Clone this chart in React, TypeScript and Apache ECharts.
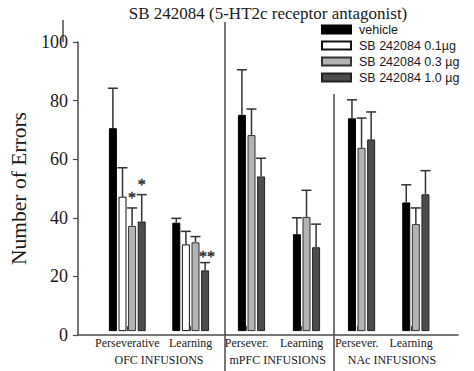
import React, { useEffect, useRef } from 'react';
import * as echarts from 'echarts';

// ---- data ----
const titleText = 'SB 242084 (5-HT2c receptor antagonist)';
const yAxisName = 'Number of Errors';
const ofcCategories = ['Perseverative', 'Learning'];
const shortCategories = ['Persever.', 'Learning'];
const panelNames = ['OFC INFUSIONS', 'mPFC INFUSIONS', 'NAc INFUSIONS'];
const seriesNames = ['vehicle', 'SB 242084 0.1µg', 'SB 242084 0.3 µg', 'SB 242084 1.0 µg'];

// OFC
const ofcVehicle = [70.2, 37.5];
const ofcVehicleSem = [13.8, 1.5];
const ofcDose01 = [46.5, 30.0];
const ofcDose01Sem = [10.0, 4.5];
const ofcDose03 = [36.4, 30.7];
const ofcDose03Sem = [6.2, 2.0];
const ofcDose10 = [37.9, 21.0];
const ofcDose10Sem = [9.3, 2.7];
const ofcDose03Sig = ['*', ''];
const ofcDose10Sig = ['*', '**'];

// mPFC
const mpfcVehicle = [74.8, 33.5];
const mpfcVehicleSem = [15.6, 5.7];
const mpfcDose03 = [67.8, 39.5];
const mpfcDose03Sem = [9.0, 9.2];
const mpfcDose10 = [53.5, 29.0];
const mpfcDose10Sem = [6.3, 8.0];

// NAc
const nacVehicle = [73.6, 44.5];
const nacVehicleSem = [6.4, 6.1];
const nacDose03 = [63.4, 37.0];
const nacDose03Sem = [10.3, 5.6];
const nacDose10 = [66.3, 47.3];
const nacDose10Sem = [9.5, 8.2];

// ---- styles ----
const SERIF = '"Liberation Serif", "Times New Roman", serif';
const SANS = '"Liberation Sans", Arial, sans-serif';
const fills = ['#000000', '#ffffff', '#b3b3b3', '#4d4d4d'];
const borders = ['#000000', '#111111', '#333333', '#222222'];
const AXIS_COLOR = '#4a4a4a';
const ERR_COLOR = '#333333';
const BAR_W = 8;
const BAR_GAP = 0.2;
const PITCH = BAR_W * (1 + BAR_GAP);

type Bar = { s: number; mean: number[]; sem: number[]; sig?: string[] };

const panels: { cats: string[]; bars: Bar[]; placeholder: boolean }[] = [
  {
    cats: ofcCategories,
    placeholder: false,
    bars: [
      { s: 0, mean: ofcVehicle, sem: ofcVehicleSem },
      { s: 1, mean: ofcDose01, sem: ofcDose01Sem },
      { s: 2, mean: ofcDose03, sem: ofcDose03Sem, sig: ofcDose03Sig },
      { s: 3, mean: ofcDose10, sem: ofcDose10Sem, sig: ofcDose10Sig },
    ],
  },
  {
    cats: shortCategories,
    placeholder: true,
    bars: [
      { s: 0, mean: mpfcVehicle, sem: mpfcVehicleSem },
      { s: 2, mean: mpfcDose03, sem: mpfcDose03Sem },
      { s: 3, mean: mpfcDose10, sem: mpfcDose10Sem },
    ],
  },
  {
    cats: shortCategories,
    placeholder: true,
    bars: [
      { s: 0, mean: nacVehicle, sem: nacVehicleSem },
      { s: 2, mean: nacDose03, sem: nacDose03Sem },
      { s: 3, mean: nacDose10, sem: nacDose10Sem },
    ],
  },
];

const TOP = 42;
const BOTTOM = 36;
const panelGrids = [
  { left: 95.6, width: 126.8, namePad: 0 },
  { left: 219.2, width: 110, namePad: 7 },
  { left: 329.6, width: 108.6, namePad: 16 },
];

function buildOption() {
  const grid: any[] = [{ left: 63, right: 16, top: TOP, bottom: BOTTOM }];
  const xAxis: any[] = [
    {
      gridIndex: 0,
      type: 'value',
      min: 0,
      max: 1,
      axisLine: { show: true, onZero: false, lineStyle: { color: AXIS_COLOR, width: 1.5 } },
      axisTick: { show: false },
      axisLabel: { show: false },
      splitLine: { show: false },
    },
  ];
  const yAxis: any[] = [
    {
      gridIndex: 0,
      type: 'value',
      min: 0,
      max: 100,
      interval: 20,
      name: yAxisName,
      nameLocation: 'middle',
      nameGap: 39,
      nameTextStyle: { fontFamily: SERIF, fontSize: 21.5, color: '#1a1a1a' },
      axisLine: { show: true, lineStyle: { color: AXIS_COLOR, width: 1.5 } },
      axisTick: { show: true, inside: false, length: 5, lineStyle: { color: AXIS_COLOR, width: 1.2 } },
      axisLabel: { fontFamily: SERIF, fontSize: 18, color: '#1a1a1a', margin: 10 },
      splitLine: { show: false },
    },
  ];
  const series: any[] = [];

  panels.forEach((p, pi) => {
    const gi = pi + 1;
    const pg = panelGrids[pi];
    grid.push({ left: pg.left, width: pg.width, top: TOP, bottom: BOTTOM });
    xAxis.push({
      gridIndex: gi,
      type: 'category',
      data: p.cats,
      name: panelNames[pi],
      nameLocation: 'middle',
      nameGap: 22,
      nameTextStyle: {
        fontFamily: SERIF,
        fontSize: 12,
        color: '#1a1a1a',
        padding: [0, 0, 0, pg.namePad],
      },
      axisLine: { show: false },
      axisTick: {
        show: true,
        inside: true,
        length: 5,
        alignWithLabel: true,
        lineStyle: { color: AXIS_COLOR, width: 1.2 },
      },
      axisLabel: { fontFamily: SERIF, fontSize: 12, color: '#1a1a1a', margin: 6, interval: 0 },
      splitLine: { show: false },
    });
    yAxis.push({ gridIndex: gi, type: 'value', min: 0, max: 100, show: false });

    const layoutSlots: (Bar | null)[] = p.placeholder ? [null, ...p.bars] : [...p.bars];
    layoutSlots.forEach((b) => {
      if (!b) {
        series.push({
          type: 'bar',
          xAxisIndex: gi,
          yAxisIndex: gi,
          barWidth: BAR_W,
          barGap: `${BAR_GAP * 100}%`,
          data: p.cats.map(() => null),
          silent: true,
        });
        return;
      }
      series.push({
        type: 'bar',
        name: seriesNames[b.s],
        xAxisIndex: gi,
        yAxisIndex: gi,
        barWidth: BAR_W,
        barGap: `${BAR_GAP * 100}%`,
        itemStyle: { color: fills[b.s], borderColor: borders[b.s], borderWidth: 1 },
        data: b.mean,
      });
    });

    layoutSlots.forEach((b, slot) => {
      if (!b) return;
      const offset = (slot - 1.5) * PITCH;
      // error bars (upper only, with cap)
      series.push({
        type: 'custom',
        xAxisIndex: gi,
        yAxisIndex: gi,
        z: 5,
        silent: true,
        data: b.mean.map((m, i) => [i, m, m + b.sem[i]]),
        renderItem: (_params: any, api: any) => {
          const base = api.coord([api.value(0), api.value(1)]);
          const top = api.coord([api.value(0), api.value(2)]);
          const x = base[0] + offset;
          return {
            type: 'group',
            children: [
              {
                type: 'line',
                shape: { x1: x, y1: base[1], x2: x, y2: top[1] },
                style: { stroke: ERR_COLOR, lineWidth: 1.5 },
              },
              {
                type: 'line',
                shape: { x1: x - 5, y1: top[1], x2: x + 5, y2: top[1] },
                style: { stroke: ERR_COLOR, lineWidth: 1.5 },
              },
            ],
          };
        },
      });
      // significance markers
      if (b.sig) {
        const sig = b.sig;
        const items = b.mean
          .map((m, i) => ({ i, m, mark: sig[i] }))
          .filter((d) => d.mark)
          .map((d) => ({
            value: [d.i, d.m + b.sem[d.i]],
            label: {
              formatter: d.mark,
              offset: [offset + (d.mark.length > 1 ? 2 : 0), d.mark.length > 1 ? -6.5 : -10.5],
            },
          }));
        series.push({
          type: 'scatter',
          xAxisIndex: gi,
          yAxisIndex: gi,
          z: 6,
          silent: true,
          symbolSize: 0,
          itemStyle: { color: '#222222' },
          label: {
            show: true,
            position: 'inside',
            fontFamily: SERIF,
            fontSize: 16,
            color: '#222222',
            textBorderWidth: 0.6,
            textBorderColor: '#222222',
          },
          data: items,
        });
      }
    });
  });

  return {
    animation: false,
    backgroundColor: '#ffffff',
    title: {
      text: titleText,
      left: 263,
      top: 0,
      textAlign: 'center',
      textStyle: { fontFamily: SERIF, fontSize: 17, fontWeight: 'normal', color: '#1a1a1a' },
    },
    legend: {
      data: seriesNames,
      orient: 'vertical',
      left: 321,
      top: 23,
      padding: 0,
      itemWidth: 29,
      itemHeight: 8,
      itemGap: 3,
      icon: 'rect',
      selectedMode: false,
      textStyle: {
        fontFamily: SANS,
        fontSize: 12.5,
        color: '#1a1a1a',
        lineHeight: 13,
        padding: [0, 0, 0, 3],
      },
    },
    graphic: [
      {
        type: 'line',
        shape: { x1: 63, y1: 20, x2: 63, y2: TOP },
        style: { stroke: AXIS_COLOR, lineWidth: 1.5 },
      },
      {
        type: 'line',
        shape: { x1: 225, y1: 22, x2: 225, y2: 371 },
        style: { stroke: AXIS_COLOR, lineWidth: 1.5 },
      },
      {
        type: 'line',
        shape: { x1: 334, y1: 94, x2: 334, y2: 371 },
        style: { stroke: AXIS_COLOR, lineWidth: 1.5 },
      },
    ],
    grid,
    xAxis,
    yAxis,
    series,
  };
}

export default function App() {
  const ref = useRef<HTMLDivElement>(null);
  useEffect(() => {
    if (!ref.current) return;
    const chart = echarts.init(ref.current, undefined, { renderer: 'svg' });
    chart.setOption(buildOption() as any);
    return () => chart.dispose();
  }, []);
  return (
    <div
      ref={ref}
      style={{ width: 474, height: 371, position: 'absolute', left: 0, top: 0 }}
    />
  );
}
